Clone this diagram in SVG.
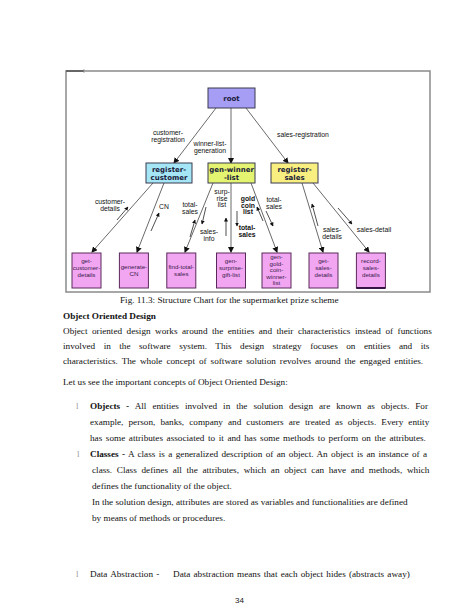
<svg xmlns="http://www.w3.org/2000/svg" width="474" height="613" viewBox="0 0 474 613">
<defs>
<marker id="ah" markerWidth="6" markerHeight="6" refX="5" refY="3" orient="auto" markerUnits="userSpaceOnUse">
<path d="M0,0 L6,3 L0,6 z" fill="#111"/>
</marker>
<marker id="sh" markerWidth="4" markerHeight="4" refX="3.5" refY="2" orient="auto" markerUnits="userSpaceOnUse">
<path d="M0,0 L4,2 L0,4 z" fill="#111"/>
</marker>
<style>
.frame{fill:none;stroke:#8a8a8a;stroke-width:1.5}
.con{stroke:#6a6a6a;stroke-width:1;fill:none;marker-end:url(#ah)}
.cp{stroke:#222;stroke-width:0.8;fill:none;marker-end:url(#sh)}
.lbl{font-family:"Liberation Sans",Arial,sans-serif;font-size:6.8px;fill:#111;text-anchor:middle}
.blbl{font-weight:bold}
.top rect{stroke:#3a3a50;stroke-width:1}
.top text{font-family:"DejaVu Sans","Liberation Sans",sans-serif;font-size:7px;font-weight:bold;fill:#1a1a3a;text-anchor:middle}
.leaf rect{fill:#f2a6f2;stroke:#5a2a5a;stroke-width:1}
.leaf text{font-family:"Liberation Sans",Arial,sans-serif;font-size:6.2px;fill:#3a1a4a;text-anchor:middle}
.body{font-family:"Liberation Serif","Times New Roman",serif;font-size:9.2px;fill:#111}
.bul{font-family:"Liberation Serif",serif;font-size:9px;fill:#9a9a9a}
</style>
</defs>
<rect width="474" height="613" fill="#fff"/>
<g id="frame">
<rect class="frame" x="66" y="71" width="364" height="221"/>
<line x1="66" y1="71" x2="84" y2="71" stroke="#666" stroke-width="2"/>
<line x1="84" y1="69" x2="84" y2="73" stroke="#999" stroke-width="0.8"/>
</g>
<g id="connectors">
<line class="con" x1="216" y1="108" x2="174" y2="163"/>
<line class="con" x1="231" y1="108" x2="231" y2="163"/>
<line class="con" x1="246" y1="108" x2="288" y2="163"/>
<line class="con" x1="153" y1="183" x2="92" y2="252"/>
<line class="con" x1="164" y1="183" x2="137" y2="252"/>
<line class="con" x1="213" y1="183" x2="185" y2="252"/>
<line class="con" x1="231" y1="183" x2="231" y2="252"/>
<line class="con" x1="251" y1="183" x2="277" y2="252"/>
<line class="con" x1="302" y1="183" x2="323" y2="252"/>
<line class="con" x1="313" y1="183" x2="369" y2="252"/>
<line class="cp" x1="117" y1="220" x2="128" y2="207"/>
<line class="cp" x1="151" y1="231" x2="159" y2="213"/>
<line class="cp" x1="190" y1="237" x2="195" y2="220"/>
<line class="cp" x1="206" y1="207" x2="202" y2="224"/>
<line class="cp" x1="226" y1="236" x2="226" y2="218"/>
<line class="cp" x1="237" y1="211" x2="237" y2="226"/>
<line class="cp" x1="263" y1="221" x2="257" y2="207"/>
<line class="cp" x1="266" y1="211" x2="273" y2="226"/>
<line class="cp" x1="318" y1="226" x2="312" y2="204"/>
<line class="cp" x1="338" y1="208" x2="352" y2="224"/>
<text class="lbl"><tspan x="168" y="135">customer-</tspan><tspan x="168" y="142">registration</tspan></text>
<text class="lbl"><tspan x="210" y="146">winner-list-</tspan><tspan x="210" y="153">generation</tspan></text>
<text class="lbl" x="303" y="137">sales-registration</text>
<text class="lbl"><tspan x="110" y="204">customer-</tspan><tspan x="110" y="211">details</tspan></text>
<text class="lbl" x="164" y="209">CN</text>
<text class="lbl"><tspan x="190" y="207">total-</tspan><tspan x="190" y="214">sales</tspan></text>
<text class="lbl"><tspan x="209" y="234">sales-</tspan><tspan x="209" y="241">info</tspan></text>
<text class="lbl"><tspan x="222" y="194">surp-</tspan><tspan x="222" y="200.5">rise</tspan><tspan x="222" y="207">list</tspan></text>
<text class="lbl blbl"><tspan x="247" y="230">total-</tspan><tspan x="247" y="237">sales</tspan></text>
<text class="lbl blbl"><tspan x="248" y="201">gold</tspan><tspan x="248" y="207.5">coin</tspan><tspan x="248" y="214">list</tspan></text>
<text class="lbl"><tspan x="274" y="202">total-</tspan><tspan x="274" y="209">sales</tspan></text>
<text class="lbl"><tspan x="332" y="232">sales-</tspan><tspan x="332" y="239">details</tspan></text>
<text class="lbl" x="374" y="232">sales-detail</text>
</g>
<g id="root" class="top">
<rect x="208" y="88" width="47" height="20" fill="#a69ef5"/>
<text x="231.5" y="100.5">root</text>
</g>
<g id="register-customer" class="top">
<rect x="146" y="163" width="46" height="20" fill="#a4e6f6"/>
<text><tspan x="169" y="172">register-</tspan><tspan x="169" y="180">customer</tspan></text>
</g>
<g id="gen-winner-list" class="top">
<rect x="208" y="163" width="47" height="20" fill="#e4f470"/>
<text><tspan x="231.5" y="172">gen-winner</tspan><tspan x="231.5" y="180">-list</tspan></text>
</g>
<g id="register-sales" class="top">
<rect x="271" y="163" width="47" height="20" fill="#f8ef80"/>
<text><tspan x="294.5" y="172">register-</tspan><tspan x="294.5" y="180">sales</tspan></text>
</g>
<g id="get-customer-details" class="leaf">
<rect x="72" y="253" width="29" height="35"/>
<text><tspan x="86.5" y="263">get-</tspan><tspan x="86.5" y="270">customer-</tspan><tspan x="86.5" y="277">details</tspan></text>
</g>
<g id="generate-CN" class="leaf">
<rect x="119.4" y="253" width="29" height="35"/>
<text><tspan x="133.9" y="269">generate-</tspan><tspan x="133.9" y="276">CN</tspan></text>
</g>
<g id="find-total-sales" class="leaf">
<rect x="166.8" y="253" width="29" height="35"/>
<text><tspan x="181.3" y="269">find-total-</tspan><tspan x="181.3" y="276">sales</tspan></text>
</g>
<g id="gen-surprise-gift-list" class="leaf">
<rect x="216.5" y="253" width="29" height="35"/>
<text><tspan x="231" y="263">gen-</tspan><tspan x="231" y="270">surprise-</tspan><tspan x="231" y="277">gift-list</tspan></text>
</g>
<g id="gen-gold-coin-winner-list" class="leaf">
<rect x="262" y="253" width="29" height="35"/>
<text><tspan x="276.5" y="259">gen-</tspan><tspan x="276.5" y="265.5">gold-</tspan><tspan x="276.5" y="272">coin-</tspan><tspan x="276.5" y="278.5">winner-</tspan><tspan x="276.5" y="285">list</tspan></text>
</g>
<g id="get-sales-details" class="leaf">
<rect x="309" y="253" width="29" height="35"/>
<text><tspan x="323.5" y="263">get-</tspan><tspan x="323.5" y="270">sales-</tspan><tspan x="323.5" y="277">details</tspan></text>
</g>
<g id="record-sales-details" class="leaf">
<rect x="356.4" y="253" width="29" height="35"/>
<line x1="356.4" y1="288" x2="385.4" y2="288" stroke="#2a0a3a" stroke-width="1.8"/>
<text><tspan x="370.9" y="263">record-</tspan><tspan x="370.9" y="270">sales-</tspan><tspan x="370.9" y="277">details</tspan></text>
</g>
<g id="page-text">
<text class="body" x="120" y="303" font-size="8.8">Fig. 11.3: Structure Chart for the supermarket prize scheme</text>
<text class="body" x="63" y="319" font-weight="bold" font-size="9.4">Object Oriented Design</text>
<text class="body" x="63" y="334" word-spacing="2.2">Object oriented design works around the entities and their characteristics instead of functions</text>
<text class="body" x="63" y="349" word-spacing="6.2">involved in the software system. This design strategy focuses on entities and its</text>
<text class="body" x="63" y="364" word-spacing="1.7">characteristics. The whole concept of software solution revolves around the engaged entities.</text>
<text class="body" x="63" y="385">Let us see the important concepts of Object Oriented Design:</text>
<text class="bul" x="76" y="409">l</text>
<text class="body" x="90" y="409" word-spacing="3.7"><tspan font-weight="bold">Objects -</tspan> All entities involved in the solution design are known as objects. For</text>
<text class="body" x="90" y="425" word-spacing="2.8">example, person, banks, company and customers are treated as objects. Every entity</text>
<text class="body" x="90" y="441" word-spacing="1.3">has some attributes associated to it and has some methods to perform on the attributes.</text>
<text class="bul" x="77" y="457">l</text>
<text class="body" x="90" y="457" word-spacing="1.1"><tspan font-weight="bold">Classes -</tspan> A class is a generalized description of an object. An object is an instance of a</text>
<text class="body" x="92" y="473" word-spacing="2.4">class. Class defines all the attributes, which an object can have and methods, which</text>
<text class="body" x="92" y="489">defines the functionality of the object.</text>
<text class="body" x="92" y="505">In the solution design, attributes are stored as variables and functionalities are defined</text>
<text class="body" x="92" y="521">by means of methods or procedures.</text>
<text class="bul" x="76" y="577">l</text>
<text class="body" x="90" y="577" word-spacing="1">Data Abstraction -</text>
<text class="body" x="173" y="577" word-spacing="0.9">Data abstraction means that each object hides (abstracts away)</text>
<text x="235" y="603" font-family="Liberation Sans,sans-serif" font-size="8" fill="#1a1a1a">34</text>
</g>
</svg>
